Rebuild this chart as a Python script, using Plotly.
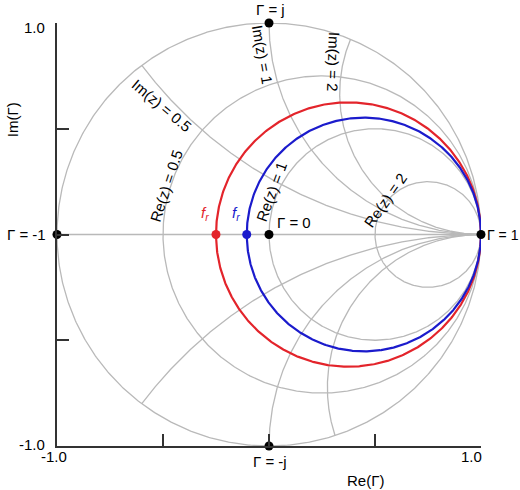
import numpy as np
import plotly.graph_objects as go

# resistance circles, given by where they cut the real axis (as drawn)
re_cross = [-0.5, 0.0, 0.5]
re_labels = ["Re(z) = 0.5", "Re(z) = 1", "Re(z) = 2"]

# reactance arcs, normalised reactance as drawn (upper and lower half)
im_values = [0.5, 1.0, 1.5, -0.5, -1.0, -1.38]
im_labels = ["Im(z) = 0.5", "Im(z) = 1", "Im(z) = 2"]

# resonance points f_r on the real axis (red, blue)
fr_points = [-0.25, -0.105]
fr_colors = ["#e3242b", "#1b1bcc"]

# marked points on the chart
special_x = [-1.0, 0.0, 0.0, 0.0, 1.0]
special_y = [0.0, 1.0, 0.0, -1.0, 0.0]
special_labels = ["Γ = -1", "Γ = j", "Γ = 0", "Γ = -j", "Γ = 1"]

GRID = "#b9b9b9"
AXIS = "#333333"
FONT = dict(family="Arial", size=15, color="black")


def tangent_circle(c):
    # circle tangent at Gamma = 1, cutting the real axis at c
    t = np.linspace(0, 2 * np.pi, 721)
    xc, rad = (1 + c) / 2, (1 - c) / 2
    return xc + rad * np.cos(t), rad * np.sin(t)


def reactance_arc(x):
    r = np.concatenate([[0.0], np.geomspace(1e-3, 1e4, 900)])
    z = r + 1j * x
    g = (z - 1) / (z + 1)
    return g.real, g.imag


fig = go.Figure()

# outer circle and horizontal axis line
ox, oy = tangent_circle(-1.0)
fig.add_trace(go.Scatter(x=ox, y=oy, mode="lines", line=dict(color=GRID, width=1.3), hoverinfo="skip"))
fig.add_trace(go.Scatter(x=[-1, 1], y=[0, 0], mode="lines", line=dict(color=GRID, width=1.3), hoverinfo="skip"))

for c in re_cross:
    cx, cy = tangent_circle(c)
    fig.add_trace(go.Scatter(x=cx, y=cy, mode="lines", line=dict(color=GRID, width=1.3), hoverinfo="skip"))

for v in im_values:
    ax_, ay_ = reactance_arc(v)
    fig.add_trace(go.Scatter(x=ax_, y=ay_, mode="lines", line=dict(color=GRID, width=1.3), hoverinfo="skip"))

# resonance circles
for c, col in zip(fr_points, fr_colors):
    cx, cy = tangent_circle(c)
    fig.add_trace(go.Scatter(x=cx, y=cy, mode="lines", line=dict(color=col, width=2.2), hoverinfo="skip"))

fig.add_trace(go.Scatter(x=fr_points, y=[0, 0], mode="markers", cliponaxis=False,
                         marker=dict(color=fr_colors, size=9)))
fig.add_trace(go.Scatter(x=special_x, y=special_y, mode="markers", cliponaxis=False,
                         marker=dict(color="black", size=9)))

ann = []


def add_text(text, x, y, angle=0, xanchor="center", color="black", size=15):
    # positions given in data units, placed through paper coords so that
    # labels outside the axis range are still drawn
    ann.append(dict(text=text, x=(x + 1) / 2, y=(y + 1) / 2, xref="paper", yref="paper",
                    showarrow=False, textangle=angle, xanchor=xanchor, yanchor="middle",
                    font=dict(FONT, color=color, size=size)))


# grid labels
add_text(im_labels[0], -0.505, 0.612, 40)
add_text(im_labels[1], -0.033, 0.849, 80)
add_text(im_labels[2], 0.302, 0.816, 92)
add_text(re_labels[0], -0.486, 0.234, -72)
add_text(re_labels[1], 0.014, 0.201, -70)
add_text(re_labels[2], 0.547, 0.163, -55)

# special point labels
add_text(special_labels[0], -1.042, 0.0, xanchor="right")
add_text(special_labels[1], 0.005, 1.062)
add_text(special_labels[2], 0.118, 0.059)
add_text(special_labels[3], 0.005, -1.071)
add_text(special_labels[4], 1.02, 0.0, xanchor="left", size=14)

# f_r labels
add_text("<i>f</i><sub><i>r</i></sub>", -0.302, 0.097, color=fr_colors[0])
add_text("<i>f</i><sub><i>r</i></sub>", -0.156, 0.097, color=fr_colors[1])

# axis titles and tick labels
add_text("Im(Γ)", -1.212, 0.541, -90)
add_text("Re(Γ)", 0.453, -1.161)
add_text("1.0", -1.047, 0.981, xanchor="right")
add_text("-1.0", -1.047, -0.991, xanchor="right")
add_text("-1.0", -1.012, -1.052)
add_text("1.0", 0.953, -1.052)

axis_style = dict(range=[-1, 1], showgrid=False, zeroline=False, showline=True,
                  linecolor=AXIS, linewidth=1.5, ticks="inside", ticklen=12,
                  tickwidth=1.5, tickcolor=AXIS, tickvals=[-1, -0.5, 0, 0.5, 1],
                  showticklabels=False, fixedrange=True)

fig.update_layout(
    width=520, height=490,
    margin=dict(l=57, r=39, t=23, b=44),
    plot_bgcolor="white", paper_bgcolor="white",
    showlegend=False,
    xaxis=axis_style, yaxis=axis_style,
    annotations=ann,
    font=FONT,
)

# drop the default page margin so the 520x490 figure fills the window exactly
fig.write_html("out.html", config={"displayModeBar": False},
               post_script="document.body.style.margin = '0';")
